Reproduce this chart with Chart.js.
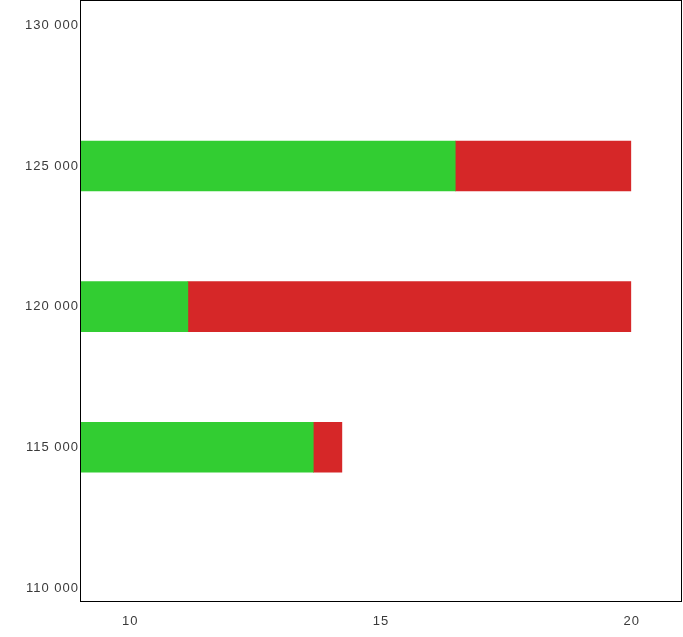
<!DOCTYPE html>
<html>
<head>
<meta charset="utf-8">
<script src="https://cdn.jsdelivr.net/npm/chart.js@4"></script>
<style>
  html, body { margin: 0; padding: 0; background: #fff; }
  #wrap { width: 683px; height: 637px; }
</style>
</head>
<body>
<div id="wrap"><canvas id="chart" width="683" height="637"></canvas></div>
<script>
// bar positions on the y axis
const yValues = [115000, 120000, 125000];
// green part of each bar
const greenValues = [13.65, 11.15, 16.48];
// red part stacked on top of the green
const redValues = [0.57, 8.83, 3.5];
// tick labels
const yTicks = [110000, 115000, 120000, 125000, 130000];
const xTicks = [10, 15, 20];

function fmtThousands(v) {
    return String(v).replace(/\B(?=(\d{3})+(?!\d))/g, ' ');
}

// frame round the plot area, wider letter spacing for the labels
const framePlugin = {
    id: 'frame',
    beforeLayout(chart) {
        chart.ctx.letterSpacing = '1px';
    },
    beforeDraw(chart) {
        chart.ctx.letterSpacing = '1px';
    },
    afterDraw(chart) {
        const a = chart.chartArea;
        const ctx = chart.ctx;
        ctx.save();
        ctx.strokeStyle = '#000';
        ctx.lineWidth = 1;
        ctx.strokeRect(a.left + 0.5, a.top + 0.5, a.right - a.left - 1, a.bottom - a.top - 1);
        ctx.restore();
    }
};

const tickFont = { family: "'Liberation Sans', Arial, sans-serif", size: 13 };

new Chart(document.getElementById('chart'), {
    type: 'bar',
    data: {
        datasets: [
            {
                data: yValues.map((y, i) => ({ x: greenValues[i], y: y })),
                backgroundColor: '#32CD32',
                barThickness: 50
            },
            {
                data: yValues.map((y, i) => ({ x: redValues[i], y: y })),
                backgroundColor: '#D62728',
                barThickness: 50
            }
        ]
    },
    options: {
        indexAxis: 'y',
        responsive: false,
        animation: false,
        layout: { padding: { left: 10, right: 1, top: 0, bottom: 0 } },
        plugins: { legend: { display: false }, tooltip: { enabled: false } },
        scales: {
            x: {
                type: 'linear',
                stacked: true,
                min: 9,
                max: 21,
                grid: { display: false },
                border: { display: false },
                afterBuildTicks(scale) {
                    scale.ticks = xTicks.map(v => ({ value: v }));
                },
                afterFit(scale) {
                    scale.paddingLeft = 0;
                    scale.paddingRight = 0;
                    scale.height = 35;
                },
                ticks: { color: '#3a3a3a', font: tickFont, padding: 4 }
            },
            y: {
                type: 'linear',
                stacked: true,
                offset: false,
                min: 109500,
                max: 130900,
                grid: { display: false, offset: false },
                border: { display: false },
                afterBuildTicks(scale) {
                    scale.ticks = yTicks.map(v => ({ value: v }));
                },
                afterFit(scale) {
                    scale.paddingTop = 0;
                    scale.paddingBottom = 0;
                    scale.width = 70;
                },
                ticks: {
                    color: '#3a3a3a',
                    font: tickFont,
                    padding: -7,
                    callback: v => fmtThousands(v)
                }
            }
        }
    },
    plugins: [framePlugin]
});
</script>
</body>
</html>
